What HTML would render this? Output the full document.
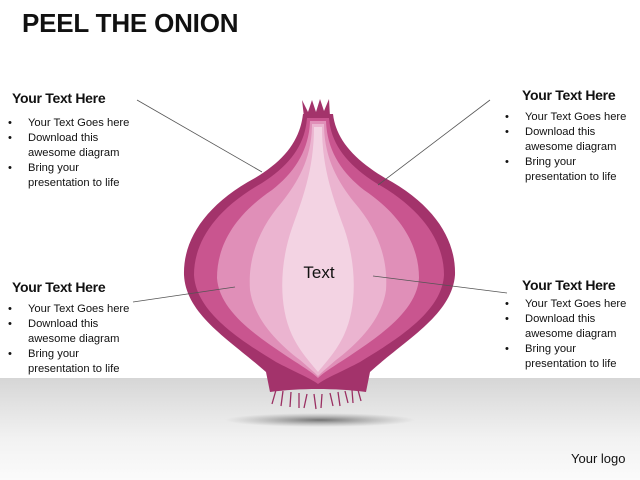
<!DOCTYPE html>
<html><head><meta charset="utf-8"><style>
body{margin:0;width:640px;height:480px;position:relative;overflow:hidden;background:#fff;font-family:"Liberation Sans",sans-serif;color:#111}
.band{position:absolute;left:0;top:378px;width:640px;height:102px;background:linear-gradient(#d6d6d6,#f2f2f2 60%,#fbfbfb)}
.t{position:absolute;white-space:nowrap}
h1{position:absolute;left:22px;top:8px;margin:0;font-size:26px;font-weight:bold;letter-spacing:-0.2px}
.h{font-weight:bold;font-size:14px;letter-spacing:-0.3px}
ul{position:absolute;margin:0;padding:0;list-style:none;font-size:11.2px;line-height:15px}
li{position:relative;padding-left:20px}
li:before{content:"•";position:absolute;left:0}
</style></head><body>
<div class="band"></div>
<h1>PEEL THE ONION</h1>
<svg width="640" height="480" style="position:absolute;left:0;top:0">
<defs><radialGradient id="sh"><stop offset="0" stop-color="#555" stop-opacity=".8"/><stop offset="1" stop-color="#888" stop-opacity="0"/></radialGradient></defs>
<ellipse cx="320" cy="420" rx="95" ry="7" fill="url(#sh)"/>
<g stroke="#9a2f62" stroke-width="1.3" fill="none">
<path d="M276,390 l-4,14 M283,391 l-2,15 M291,392 l-1,15 M299,393 l0,15 M307,394 l-3,14 M314,394 l2,15 M322,394 l-1,14 M330,393 l3,13 M338,392 l2,14 M345,391 l3,12 M352,390 l1,13 M358,390 l3,11"/>
</g>
<path d="M302,100 l6,12 4,-12 4,12 4,-13 4,12 5,-12 1,18 l-26,0 Z" fill="#a3336b"/>
<path d="M303,114 C300,140 285,160 255,178 C205,205 183,240 184,275 C186,315 230,340 266,372 L270,392 C300,388 335,388 366,392 L370,372 C405,340 452,315 455,275 C456,240 435,205 385,178 C355,160 336,140 333,114 Z" fill="#a3336b"/>
<path d="M307,118 C305,145 290,165 262,183 C214,210 194,243 194,275 C196,312 240,340 276,362 C295,372 310,378 318,384 C326,378 341,372 360,362 C396,340 442,312 444,275 C444,243 424,210 376,183 C348,165 331,145 329,118 Z" fill="#c9558f"/>
<path d="M310,121 C309,150 295,172 272,190 C232,217 217,248 217,278 C219,310 255,335 285,355 C300,365 312,372 318,378 C324,372 336,365 351,355 C381,335 417,310 419,278 C419,248 404,217 364,190 C341,172 327,150 326,121 Z" fill="#e08fb8"/>
<path d="M312,124 C312,158 298,182 282,202 C256,232 248,262 250,290 C254,320 280,345 300,360 C308,367 314,372 318,376 C322,372 328,367 336,360 C356,345 382,320 386,290 C388,262 380,232 354,202 C338,182 324,158 324,124 Z" fill="#ebb4d0"/>
<path d="M314,127 C314,170 302,200 292,228 C280,262 278,305 292,335 C300,352 310,362 318,372 C326,362 336,352 344,335 C358,305 356,262 344,228 C334,200 322,170 322,127 Z" fill="#f3d3e3"/>
<g stroke="#555" stroke-width="0.8">
<line x1="137" y1="100" x2="262" y2="172"/>
<line x1="490" y1="100" x2="378" y2="185"/>
<line x1="133" y1="302" x2="235" y2="287"/>
<line x1="373" y1="276" x2="507" y2="293"/>
</g>
<text x="319" y="278" text-anchor="middle" font-family="Liberation Sans,sans-serif" font-size="17" fill="#111">Text</text>
</svg>
<div class="t h" style="left:12px;top:90px">Your Text Here</div>
<ul style="left:8px;top:116px"><li>Your Text Goes here</li><li>Download this<br>awesome diagram</li><li>Bring your<br>presentation to life</li></ul>
<div class="t h" style="left:522px;top:87px">Your Text Here</div>
<ul style="left:505px;top:110px"><li>Your Text Goes here</li><li>Download this<br>awesome diagram</li><li>Bring your<br>presentation to life</li></ul>
<div class="t h" style="left:12px;top:279px">Your Text Here</div>
<ul style="left:8px;top:302px"><li>Your Text Goes here</li><li>Download this<br>awesome diagram</li><li>Bring your<br>presentation to life</li></ul>
<div class="t h" style="left:522px;top:277px">Your Text Here</div>
<ul style="left:505px;top:297px"><li>Your Text Goes here</li><li>Download this<br>awesome diagram</li><li>Bring your<br>presentation to life</li></ul>
<div class="t" style="left:571px;top:451px;font-size:13px">Your logo</div>
</body></html>
